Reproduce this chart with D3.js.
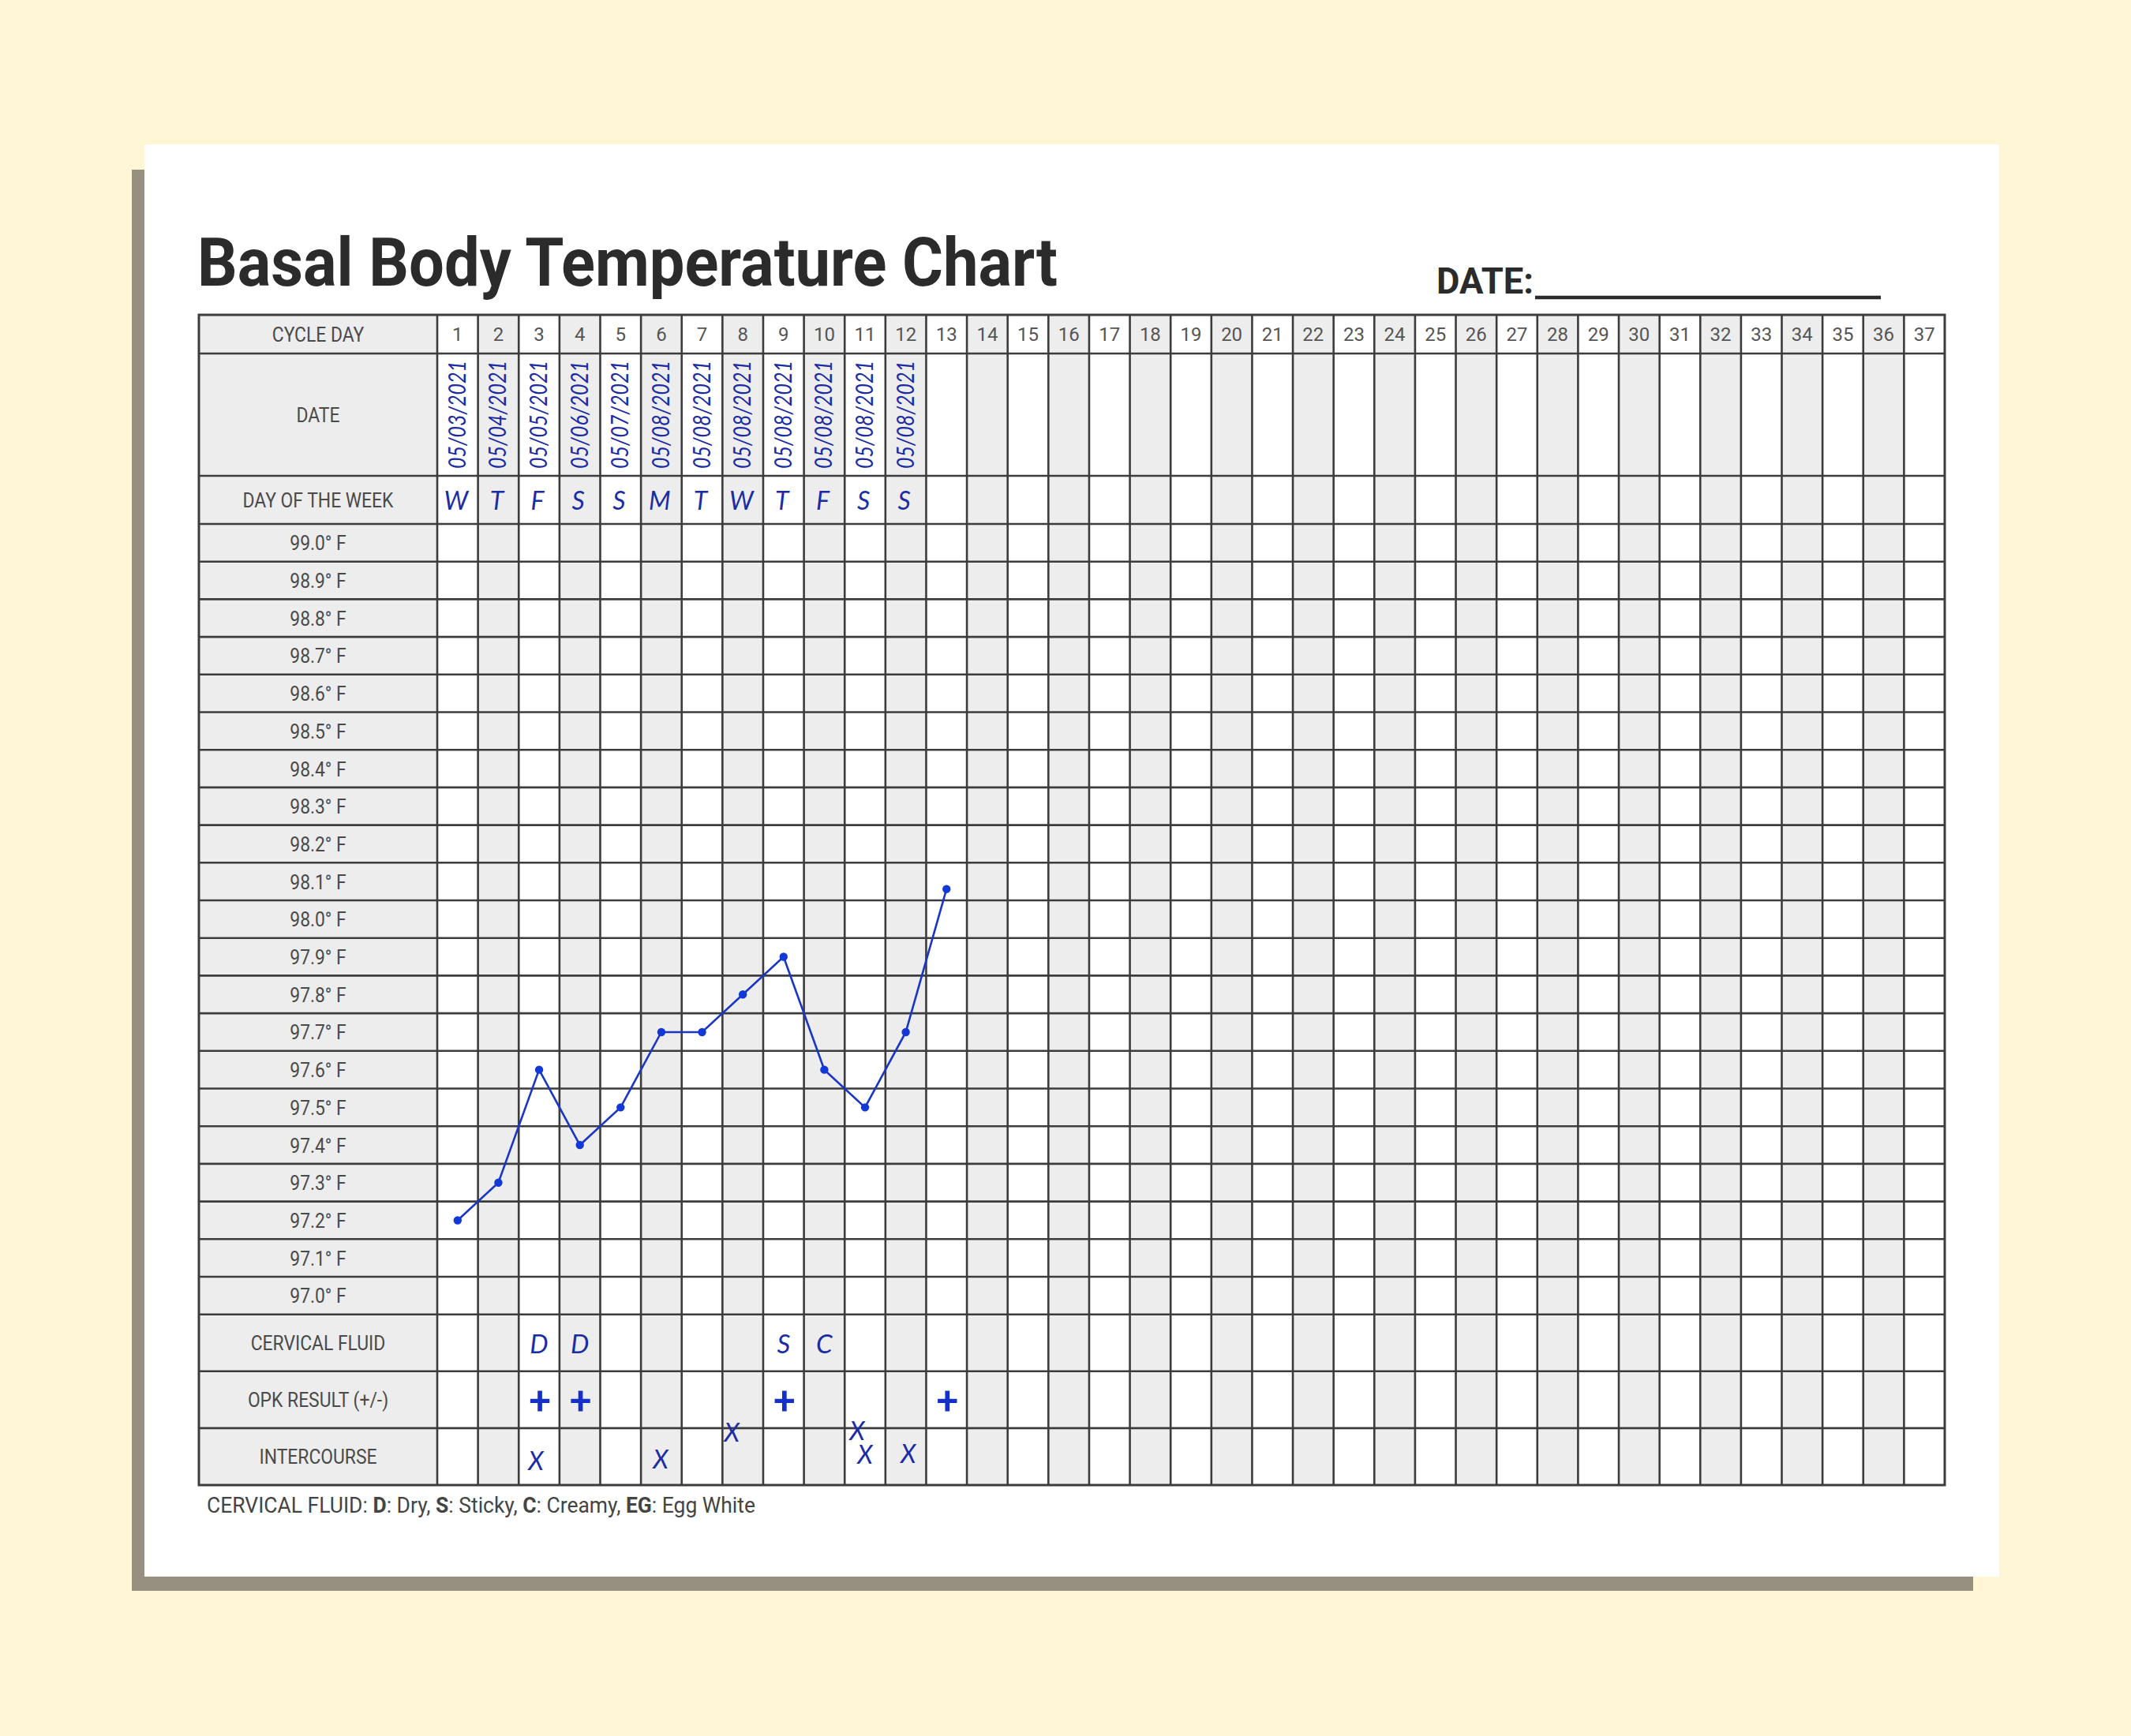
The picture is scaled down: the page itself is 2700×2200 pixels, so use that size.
<!DOCTYPE html>
<html>
<head>
<meta charset="utf-8">
<script src="https://cdn.jsdelivr.net/npm/d3@7"></script>
<style>
  body { margin: 0; background: #fff6d6; }
  svg { display: block; }
</style>
</head>
<body>
<div id="chart"></div>
<script>
// Chart values
const cycleDays = d3.range(1, 38);
const dates = ["05/03/2021", "05/04/2021", "05/05/2021", "05/06/2021", "05/07/2021", "05/08/2021",
               "05/08/2021", "05/08/2021", "05/08/2021", "05/08/2021", "05/08/2021", "05/08/2021"];
const weekDays = ["W", "T", "F", "S", "S", "M", "T", "W", "T", "F", "S", "S"];
const tempLabels = ["99.0", "98.9", "98.8", "98.7", "98.6", "98.5", "98.4", "98.3", "98.2", "98.1", "98.0",
                    "97.9", "97.8", "97.7", "97.6", "97.5", "97.4", "97.3", "97.2", "97.1", "97.0"];
const temps = [97.2, 97.3, 97.6, 97.4, 97.5, 97.7, 97.7, 97.8, 97.9, 97.6, 97.5, 97.7, 98.08];
const fluidDays = [3, 4, 9, 10];
const fluidCodes = ["D", "D", "S", "C"];
const opkDays = [3, 4, 9, 13];
const intercourseDays = [3, 6, 8, 11, 11, 12];
const headLabels = ["CYCLE DAY", "DATE", "DAY OF THE WEEK"];
const footLabels = ["CERVICAL FLUID", "OPK RESULT (+/-)", "INTERCOURSE"];

// Layout
const width = 2700, height = 2200;
const tableLeft = 252, colStart = 554, tableRight = 2464, tableTop = 399;
const headHeights = [49, 155, 61];
const tempRowH = 47.7;
const footRowH = 72.1;
const gray = "#ededed", gridColor = "#3c3c3c", ink = "#1b2ca4";

const svg = d3.select("#chart").append("svg")
    .attr("width", width)
    .attr("height", height);

svg.append("rect").attr("width", width).attr("height", height).attr("fill", "#fff6d6");

// Paper with shadow
svg.append("rect").attr("x", 167).attr("y", 215).attr("width", 2333).attr("height", 1801).attr("fill", "#979080");
svg.append("rect").attr("x", 183).attr("y", 183).attr("width", 2350).attr("height", 1815).attr("fill", "#ffffff");

// Rows: build cumulative positions
const rows = [];
let yCur = tableTop;
headLabels.forEach((l, i) => { rows.push({ label: l, y: yCur, h: headHeights[i] }); yCur += headHeights[i]; });
const tempTop = yCur;
tempLabels.forEach(l => { rows.push({ label: l + "\u00b0 F", y: yCur, h: tempRowH }); yCur += tempRowH; });
footLabels.forEach(l => { rows.push({ label: l, y: yCur, h: footRowH }); yCur += footRowH; });
const tableBottom = yCur;

const x = d3.scaleBand().domain(cycleDays).range([colStart, tableRight]);
const cx = d => x(d) + x.bandwidth() / 2;
const y = d3.scaleLinear()
    .domain([97.0, 99.0])
    .range([tempTop + 20.5 * tempRowH, tempTop + 0.5 * tempRowH]);

// Shading: label column and even columns
svg.append("rect").attr("x", tableLeft).attr("y", tableTop).attr("width", colStart - tableLeft).attr("height", tableBottom - tableTop).attr("fill", gray);
svg.selectAll(".shade")
    .data(cycleDays.filter(d => d % 2 === 0))
    .enter().append("rect")
    .attr("class", "shade")
    .attr("x", d => x(d))
    .attr("y", tableTop)
    .attr("width", x.bandwidth())
    .attr("height", tableBottom - tableTop)
    .attr("fill", gray);

// Grid lines
const grid = svg.append("g").attr("stroke", gridColor).attr("stroke-width", 2.6);
grid.selectAll(".hline")
    .data(rows.slice(1))
    .enter().append("line")
    .attr("x1", tableLeft).attr("x2", tableRight)
    .attr("y1", d => d.y).attr("y2", d => d.y);
grid.selectAll(".vline")
    .data(cycleDays)
    .enter().append("line")
    .attr("x1", d => x(d)).attr("x2", d => x(d))
    .attr("y1", tableTop).attr("y2", tableBottom);
grid.append("rect")
    .attr("x", tableLeft).attr("y", tableTop)
    .attr("width", tableRight - tableLeft).attr("height", tableBottom - tableTop)
    .attr("fill", "none").attr("stroke-width", 3);

// Row labels
const labelX = (tableLeft + colStart) / 2;
svg.selectAll(".rowlabel")
    .data(rows)
    .enter().append("text")
    .attr("class", "rowlabel")
    .attr("transform", d => `translate(${labelX},${d.y + d.h / 2 + 9.5}) scale(0.88,1)`)
    .attr("text-anchor", "middle")
    .attr("font-family", "Roboto, sans-serif")
    .attr("font-size", 26)
    .attr("fill", "#4a4a4a")
    .text(d => d.label);

// Cycle day numbers
svg.selectAll(".daynum")
    .data(cycleDays)
    .enter().append("text")
    .attr("x", d => cx(d))
    .attr("y", tableTop + headHeights[0] / 2 + 8.5)
    .attr("text-anchor", "middle")
    .attr("font-family", "Roboto, sans-serif")
    .attr("font-size", 24)
    .attr("fill", "#555")
    .text(d => d);

// Title and date
svg.append("text")
    .attr("x", 250).attr("y", 362)
    .attr("font-family", "Roboto, sans-serif")
    .attr("font-weight", 700)
    .attr("font-size", 85)
    .attr("fill", "#2b2b2b")
    .attr("textLength", 1090)
    .attr("lengthAdjust", "spacingAndGlyphs")
    .text("Basal Body Temperature Chart");

svg.append("text")
    .attr("x", 1820).attr("y", 372)
    .attr("font-family", "Roboto, sans-serif")
    .attr("font-weight", 700)
    .attr("font-size", 47)
    .attr("fill", "#2b2b2b")
    .attr("textLength", 123)
    .attr("lengthAdjust", "spacingAndGlyphs")
    .text("DATE:");
svg.append("line")
    .attr("x1", 1945).attr("x2", 2383)
    .attr("y1", 377).attr("y2", 377)
    .attr("stroke", "#2b2b2b").attr("stroke-width", 4.5);

// Footnote
const foot = svg.append("text")
    .attr("x", 262).attr("y", 1917)
    .attr("font-family", "Roboto, sans-serif")
    .attr("font-size", 27)
    .attr("fill", "#444")
    .attr("textLength", 695)
    .attr("lengthAdjust", "spacingAndGlyphs");
[["CERVICAL FLUID: ", 400], ["D", 700], [": Dry, ", 400], ["S", 700], [": Sticky, ", 400],
 ["C", 700], [": Creamy, ", 400], ["EG", 700], [": Egg White", 400]].forEach(p => {
    foot.append("tspan").attr("font-weight", p[1]).text(p[0]);
});

// Handwritten entries
const hand = svg.append("g")
    .attr("font-family", "Lato, 'DejaVu Sans', sans-serif")
    .attr("font-weight", 400)
    .attr("font-style", "italic")
    .attr("fill", ink);

const dateTop = tableTop + headHeights[0];
hand.selectAll(".date")
    .data(dates)
    .enter().append("text")
    .attr("transform", (d, i) => `translate(${cx(i + 1) + 10},${dateTop + 146}) rotate(-90)`)
    .attr("font-size", 31)
    .attr("textLength", 137)
    .attr("lengthAdjust", "spacingAndGlyphs")
    .text(d => d);

const dowMid = dateTop + headHeights[1] + headHeights[2] / 2;
hand.selectAll(".dow")
    .data(weekDays)
    .enter().append("text")
    .attr("x", (d, i) => cx(i + 1) - 2)
    .attr("y", dowMid + 12)
    .attr("text-anchor", "middle")
    .attr("font-size", 32)
    .text(d => d);

const footTop = tempTop + tempLabels.length * tempRowH;
hand.selectAll(".fluid")
    .data(fluidDays)
    .enter().append("text")
    .attr("x", d => cx(d))
    .attr("y", footTop + footRowH / 2 + 13)
    .attr("text-anchor", "middle")
    .attr("font-size", 33)
    .text((d, i) => fluidCodes[i]);

svg.selectAll(".opk")
    .data(opkDays)
    .enter().append("text")
    .attr("x", d => cx(d) + 1)
    .attr("y", footTop + footRowH * 1.5 + 18)
    .attr("text-anchor", "middle")
    .attr("font-family", "Roboto, sans-serif")
    .attr("font-weight", 500)
    .attr("font-size", 50)
    .attr("fill", "#1530c8")
    .text("+");

// handwriting drift of each X: [dx, dy] from the cell centre
const xDrift = [[-4, 6], [-1, 4], [-14, -30], [-10, -32], [0, -2], [3, -3]];
hand.selectAll(".sex")
    .data(intercourseDays)
    .enter().append("text")
    .attr("x", (d, i) => cx(d) + xDrift[i][0])
    .attr("y", (d, i) => footTop + footRowH * 2.5 + xDrift[i][1] + 11)
    .attr("text-anchor", "middle")
    .attr("font-size", 32)
    .text("X");

// Temperature line
const line = d3.line()
    .x((d, i) => cx(i + 1))
    .y(d => y(d));

svg.append("path")
    .datum(temps)
    .attr("d", line)
    .attr("fill", "none")
    .attr("stroke", "#1a36c4")
    .attr("stroke-width", 2.6);

svg.selectAll(".dot")
    .data(temps)
    .enter().append("circle")
    .attr("cx", (d, i) => cx(i + 1))
    .attr("cy", d => y(d))
    .attr("r", 5.2)
    .attr("fill", "#1238d8");
</script>
</body>
</html>
